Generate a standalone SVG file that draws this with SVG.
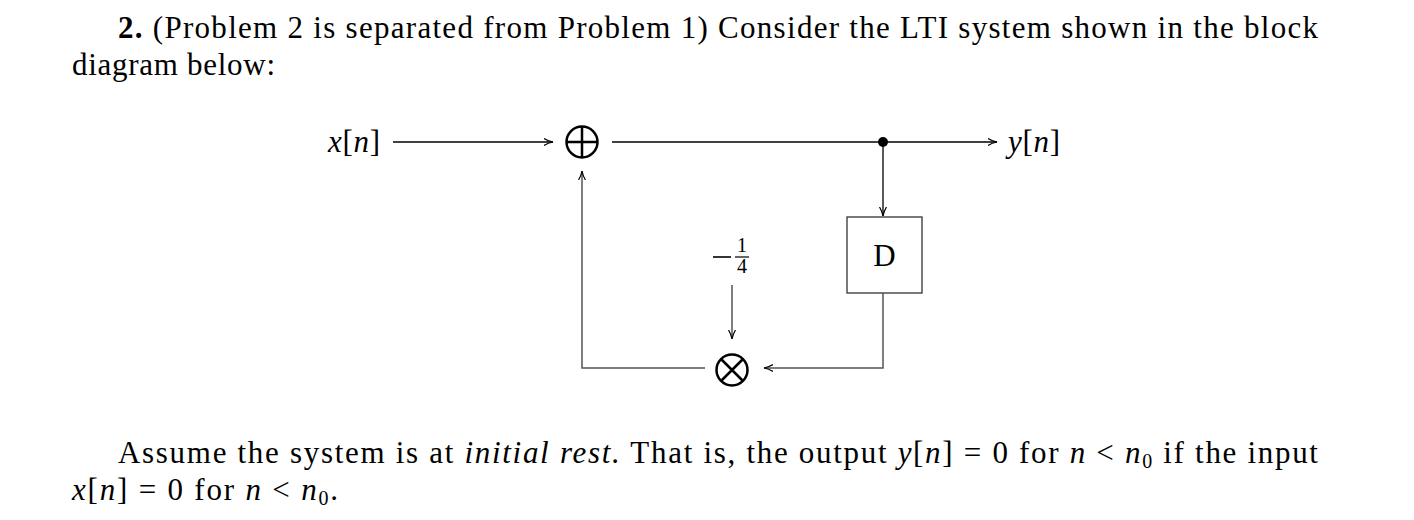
<svg xmlns="http://www.w3.org/2000/svg" width="1414" height="520" viewBox="0 0 1414 520">
<style>
text{font-family:"Liberation Serif","DejaVu Serif",serif;fill:#000}
.t{font-size:31px}
.m{font-size:31px;font-style:italic}
.w{stroke:#000;stroke-width:1.3;fill:none}
.g{stroke:#555;stroke-width:1.5;fill:none}
</style>
<defs><marker id="a" markerWidth="10" markerHeight="8" refX="9" refY="4" orient="auto" markerUnits="userSpaceOnUse"><path d="M0,0.5 Q4,3 9,4 Q4,5 0,7.5" fill="none" stroke="#000" stroke-width="1.2"/></marker></defs>
<text class="t" x="118" y="38" textLength="1200" lengthAdjust="spacing"><tspan font-weight="bold">2.</tspan> (Problem 2 is separated from Problem 1) Consider the LTI system shown in the block</text>
<text class="t" x="72" y="75" textLength="203" lengthAdjust="spacing">diagram below:</text>
<g id="x"><text class="m" x="328" y="152" textLength="52" lengthAdjust="spacing">x<tspan font-style="normal">[</tspan>n<tspan font-style="normal">]</tspan></text></g>
<g id="y"><text class="m" x="1008" y="152" textLength="52" lengthAdjust="spacing">y<tspan font-style="normal">[</tspan>n<tspan font-style="normal">]</tspan></text></g>
<g id="sum"><circle cx="582" cy="142" r="15.5" fill="none" stroke="#000" stroke-width="2.5"/><path d="M566,142H598M582,126V158" stroke="#000" stroke-width="2.5"/></g>
<g id="mul"><circle cx="732" cy="370" r="15.5" fill="none" stroke="#000" stroke-width="2.5"/><path d="M721,359L743,381M743,359L721,381" stroke="#000" stroke-width="2.5"/></g>
<g id="D"><rect x="847" y="217" width="75" height="76" fill="#fff" stroke="#333" stroke-width="1.3"/><text class="t" x="884.5" y="266" text-anchor="middle">D</text></g>
<g id="gain"><path d="M713,257H731" stroke="#000" stroke-width="1.6"/><text x="742" y="252" font-size="20" text-anchor="middle">1</text><path d="M735,257H749" stroke="#000" stroke-width="1.2"/><text x="742" y="273" font-size="20" text-anchor="middle">4</text></g>
<g id="conn">
<path class="w" d="M393,142H553" marker-end="url(#a)"/>
<path class="w" d="M612,142H997" marker-end="url(#a)"/>
<circle cx="883" cy="142" r="5" fill="#000"/>
<path class="w" d="M883,142V216" marker-end="url(#a)"/>
<path class="g" d="M883,293V368H764" marker-end="url(#a)"/>
<path class="g" d="M732,285V339" marker-end="url(#a)"/>
<path class="g" d="M705,368H582V171" marker-end="url(#a)"/>
</g>
<text class="t" x="118" y="463" textLength="1200" lengthAdjust="spacing">Assume the system is at <tspan font-style="italic">initial rest.</tspan> That is, the output <tspan font-style="italic">y</tspan>[<tspan font-style="italic">n</tspan>] = 0 for <tspan font-style="italic">n</tspan> &lt; <tspan font-style="italic">n</tspan><tspan font-size="20" dy="5">0</tspan><tspan dy="-5"> if the input</tspan></text>
<text class="t" x="72" y="500" textLength="266" lengthAdjust="spacing"><tspan font-style="italic">x</tspan>[<tspan font-style="italic">n</tspan>] = 0 for <tspan font-style="italic">n</tspan> &lt; <tspan font-style="italic">n</tspan><tspan font-size="20" dy="5">0</tspan><tspan dy="-5">.</tspan></text>
</svg>
